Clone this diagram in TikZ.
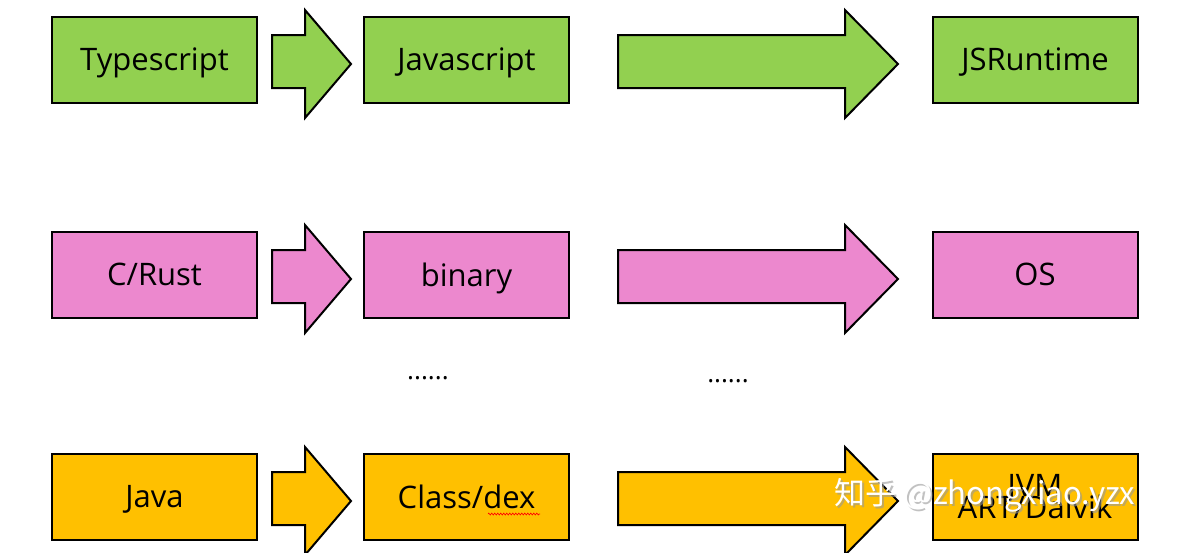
\documentclass[tikz,border=0pt]{standalone}
\usepackage{fontspec}
\usetikzlibrary{decorations.pathmorphing}
\setmainfont{Open Sans}
\newfontfamily\cjk{Noto Sans CJK SC}
\definecolor{cg}{HTML}{92D050}
\definecolor{cp}{HTML}{EC88CE}
\definecolor{co}{HTML}{FFC000}
\begin{document}
\begin{tikzpicture}[x=1pt,y=-1pt,
  bx/.style={draw=black,line width=2pt,minimum width=205pt,minimum height=86pt,inner sep=0pt,font=\fontsize{31}{34}\selectfont,align=center,text depth=0.25ex},
  ar/.style={draw=black,line width=2pt,line join=miter}]
\useasboundingbox (0,0) rectangle (1186,552);
\fill[white] (0,0) rectangle (1186,552);
\begin{scope}
\clip (0,0) rectangle (1186,552);
\foreach \dy/\c [count=\i] in {0/cg,215/cp,437/co}{
  \draw[ar,fill=\c] (272,35+\dy) -- (305,35+\dy) -- (305,10+\dy) -- (351,64+\dy) -- (305,118+\dy) -- (305,88+\dy) -- (272,88+\dy) -- cycle;
  \draw[ar,fill=\c] (618,35+\dy) -- (845,35+\dy) -- (845,10+\dy) -- (898,64+\dy) -- (845,118+\dy) -- (845,88+\dy) -- (618,88+\dy) -- cycle;
}
\end{scope}
\node[bx,fill=cg] (ts) at (154.5,60) {Typescript};
\node[bx,fill=cg] (js) at (466.5,60) {Javascript};
\node[bx,fill=cg] (jr) at (1035,60) {JSRuntime};
\node[bx,fill=cp] (cr) at (154.5,275) {C/Rust};
\node[bx,fill=cp] (bi) at (466.5,275) {binary};
\node[bx,fill=cp] (os) at (1035,275) {OS};
\node[bx,fill=co] (ja) at (154.5,497) {Java};
\node[bx,fill=co] (cd) at (466.5,497) {Class/dex};
\node[bx,fill=co,font=\fontsize{31}{30}\selectfont] (jv) at (1035,497) {JVM\\[-8pt]ART/Dalvik};
\draw[red,line width=0.6pt,decorate,decoration={zigzag,amplitude=1pt,segment length=3pt}] (488,514) -- (540,514);
\node[font=\fontsize{26}{28}\selectfont] (d1) at (428,378) {......};
\node[font=\fontsize{26}{28}\selectfont] (d2) at (728,381) {......};
\node[black!40,opacity=0.6,font=\cjk\fontsize{31}{33}\selectfont] (wms) at (987,497) {知乎 @zhongxiao.yzx};
\node[white,font=\cjk\fontsize{31}{33}\selectfont] (wm) at (985,495) {知乎 @zhongxiao.yzx};
\end{tikzpicture}
\end{document}
